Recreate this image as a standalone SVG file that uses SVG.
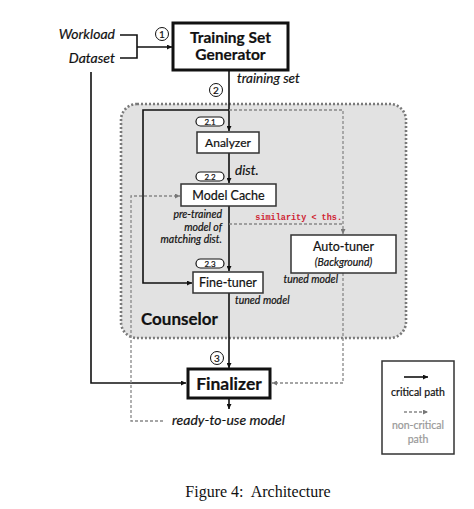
<svg xmlns="http://www.w3.org/2000/svg" width="474" height="509" viewBox="0 0 474 509">
<defs>
<marker id="ab" viewBox="0 0 8 8" refX="8" refY="4" markerWidth="5" markerHeight="5" orient="auto" markerUnits="userSpaceOnUse">
<path d="M0,0 L8,4 L0,8 z" fill="#111"/>
</marker>
<marker id="ag" viewBox="0 0 8 8" refX="8" refY="4" markerWidth="5" markerHeight="5" orient="auto" markerUnits="userSpaceOnUse">
<path d="M0,0 L8,4 L0,8 z" fill="#777"/>
</marker>
</defs>
<style>
text{font-family:Lato,"Noto Sans","Liberation Sans",sans-serif;fill:#111;stroke:#111;stroke-width:0.2}
.it{font-style:italic}
.b{font-weight:bold}
.box{fill:#fff;stroke:#333;stroke-width:1.5}
.tbox{fill:#fff;stroke:#111;stroke-width:3}
.pill{fill:#fff;stroke:#111;stroke-width:1.2}
.crit{fill:none;stroke:#111;stroke-width:1.6}
.nc{fill:none;stroke:#888;stroke-width:1.3;stroke-dasharray:3,2}
.num{font-size:8px;text-anchor:middle}
.c{text-anchor:middle}
.e{text-anchor:end}
.grey{fill:#999;stroke:#999}
</style>
<rect width="474" height="509" fill="#fff"/>

<g id="counselor">
<rect x="121" y="104" width="285" height="234" rx="16" fill="#e2e2e2" stroke="#7a7a7a" stroke-width="2.6" stroke-dasharray="2,2"/>
<text x="141" y="325" class="b" font-size="17">Counselor</text>
</g>

<g id="inputs">
<text x="115" y="39" class="it e" font-size="14">Workload</text>
<text x="115" y="63" class="it e" font-size="14">Dataset</text>
</g>

<g id="connectors">
<path class="crit" d="M120,35 H137 V58 H120 M137,47 H172" marker-end="url(#ab)"/>
<path class="crit" d="M91,72 V383 H186" marker-end="url(#ab)"/>
<path class="crit" d="M229,70 V131" marker-end="url(#ab)"/>
<path class="crit" d="M229,153 V183" marker-end="url(#ab)"/>
<path class="crit" d="M229,206 V271" marker-end="url(#ab)"/>
<path class="crit" d="M229,110 H143 V283 H192" marker-end="url(#ab)"/>
<path class="crit" d="M229,293 V368" marker-end="url(#ab)"/>
<path class="crit" d="M229,398 V409" marker-end="url(#ab)"/>
<path class="nc" d="M229,110 H343 V234" marker-end="url(#ag)"/>
<path class="nc" d="M229,224 H343"/>
<path class="nc" d="M343,273 V383 H272" marker-end="url(#ag)"/>
<path class="nc" d="M163,421 H131 V196 H180" marker-end="url(#ag)"/>
</g>

<g id="steps">
<circle cx="162" cy="34" r="6.5" fill="#fff" stroke="#111" stroke-width="1"/>
<text x="162" y="37.5" class="c" font-size="10">1</text>
<circle cx="216" cy="90" r="6.5" fill="#fff" stroke="#111" stroke-width="1"/>
<text x="216" y="93.5" class="c" font-size="10">2</text>
<circle cx="217" cy="358" r="6.5" fill="#fff" stroke="#111" stroke-width="1"/>
<text x="217" y="361.5" class="c" font-size="10">3</text>
</g>

<g id="tsg">
<rect x="173" y="23" width="115" height="47" class="tbox"/>
<text x="230.5" y="43" class="b c" font-size="15.5">Training Set</text>
<text x="230.5" y="60" class="b c" font-size="15.5">Generator</text>
</g>

<text x="237" y="83" class="it" font-size="13.5">training set</text>

<g id="analyzer">
<rect x="196" y="117" width="28" height="9" rx="4.5" class="pill"/>
<text x="210" y="124.5" class="num">2.1</text>
<rect x="197" y="132" width="62" height="21" class="box"/>
<text x="228" y="147" class="c" font-size="12">Analyzer</text>
</g>

<text x="235" y="175" class="it" font-size="13.5">dist.</text>

<g id="model-cache">
<rect x="196" y="172" width="28" height="9" rx="4.5" class="pill"/>
<text x="210" y="179.5" class="num">2.2</text>
<rect x="181" y="184" width="95" height="22" class="box"/>
<text x="228.5" y="200" class="c" font-size="12.5">Model Cache</text>
</g>

<g id="labels-cache">
<text x="222" y="218" class="it e" font-size="10.5">pre-trained</text>
<text x="222" y="231" class="it e" font-size="10.5">model of</text>
<text x="222" y="243" class="it e" font-size="10.5">matching dist.</text>
<text x="342" y="220" class="e" font-size="8.5" style="font-family:'Liberation Mono',monospace;font-weight:bold;fill:#cf2432;stroke:none">similarity &lt; ths.</text>
</g>

<g id="auto-tuner">
<rect x="291" y="235" width="105" height="38" class="box"/>
<text x="343.5" y="251" class="c" font-size="12.5">Auto-tuner</text>
<text x="343.5" y="266" class="it c" font-size="10.5">(Background)</text>
</g>
<text x="338" y="283" class="it e" font-size="10.5">tuned model</text>

<g id="fine-tuner">
<rect x="196" y="259" width="28" height="9" rx="4.5" class="pill"/>
<text x="210" y="266.5" class="num">2.3</text>
<rect x="193" y="272" width="70" height="21" class="box"/>
<text x="228" y="287" class="c" font-size="12.5">Fine-tuner</text>
</g>
<text x="235" y="304" class="it" font-size="10.5">tuned model</text>

<g id="finalizer">
<rect x="188" y="369" width="82" height="29" class="tbox"/>
<text x="229" y="389.5" class="b c" font-size="17.5">Finalizer</text>
</g>
<text x="172" y="425" class="it" font-size="14">ready-to-use model</text>

<g id="legend">
<rect x="382" y="361" width="72" height="93" fill="#fff" stroke="#333" stroke-width="1.5"/>
<path class="crit" d="M404,377 H428" marker-end="url(#ab)"/>
<text x="418" y="396" class="c" font-size="10.5">critical path</text>
<path class="nc" d="M404,412 H428" marker-end="url(#ag)"/>
<text x="418" y="429" class="c grey" font-size="10.5">non-critical</text>
<text x="418" y="443" class="c grey" font-size="10.5">path</text>
</g>

<text x="258" y="497" class="c" font-size="16" style="font-family:'Liberation Serif',serif;white-space:pre;stroke-width:0">Figure 4:  Architecture</text>
</svg>
